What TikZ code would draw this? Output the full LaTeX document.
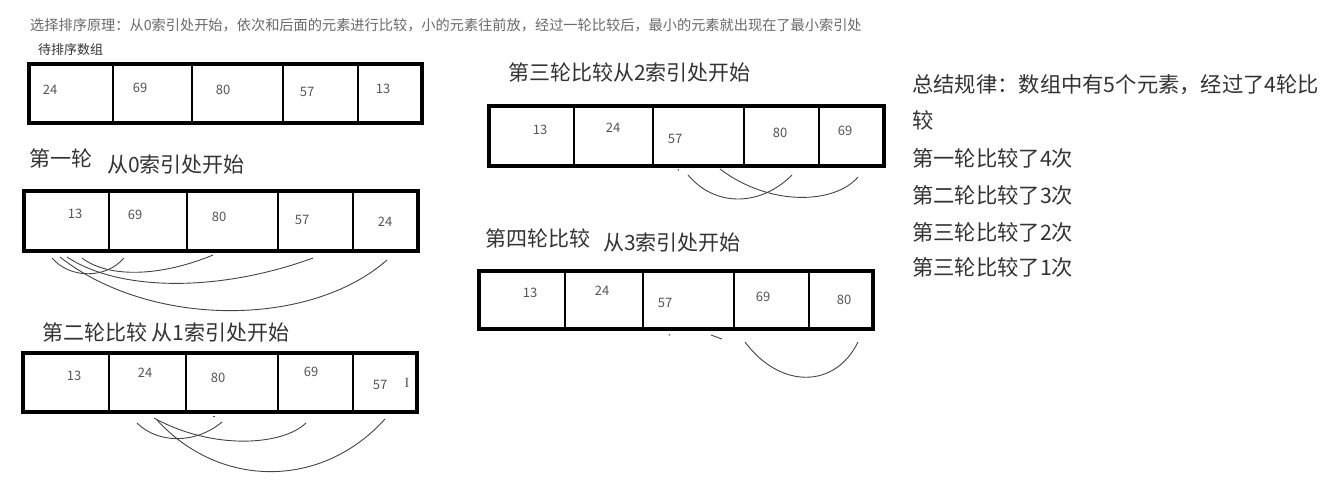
\documentclass[tikz,border=0pt]{standalone}
\usepackage{fontspec}
\setmainfont{Noto Sans CJK SC}
\newfontfamily\serifcursor{Liberation Serif}
\definecolor{capgray}{HTML}{6A6A6A}
\definecolor{labgray}{HTML}{333333}
\definecolor{numgray}{HTML}{555555}
\definecolor{curvegray}{HTML}{444444}
\tikzset{
  cellbox/.style={draw=black, line width=2.6pt, inner sep=0pt, outer sep=0pt},
  outerbox/.style={draw=black, line width=3.4pt},
  num/.style={text=numgray, font=\fontsize{13}{15}\selectfont, inner sep=0pt},
  lab/.style={text=labgray, font=\fontsize{21}{25}\selectfont, anchor=west, inner sep=0pt},
  sumtxt/.style={text=labgray, font=\fontsize{21.3}{25}\selectfont, anchor=west, inner sep=0pt},
  swapcurve/.style={draw=curvegray, line width=0.9pt},
}
\newcommand{\cellrowdraw}[4]{%
  \foreach \xl/\xr [count=\i] in {#4} {
    \node[cellbox, minimum width={\xr-\xl}, minimum height={#3-#2}, anchor=north west] (#1\i) at (\xl,-#2) {};
  }
  \draw[outerbox] (#11.north west) rectangle (#15.south east);
}
\begin{document}
\begin{tikzpicture}[x=1pt,y=1pt]
\useasboundingbox (0,0) rectangle (1335,-483);
\fill[white] (0,0) rectangle (1335,-483);

% caption
\node[anchor=west, inner sep=0pt, text=capgray, font=\fontsize{14.2}{17}\selectfont] (cap) at (30,-25) {选择排序原理：从0索引处开始，依次和后面的元素进行比较，小的元素往前放，经过一轮比较后，最小的元素就出现在了最小索引处};
\node[anchor=west, inner sep=0pt, text=labgray, font=\fontsize{13}{15}\selectfont] (orig) at (38,-50) {待排序数组};

% array 0 (original)
\cellrowdraw{a}{64}{123}{29/113, 113/192, 192/283, 283/358, 358/422}
\node[num] (an1) at (50,-90) {24};
\node[num] (an2) at (140,-88) {69};
\node[num] (an3) at (223,-90) {80};
\node[num] (an4) at (307,-92) {57};
\node[num] (an5) at (383,-89) {13};

% round 1
\node[lab] (l1a) at (29,-158) {第一轮};
\node[lab] (l1b) at (107,-165) {从0索引处开始};
\cellrowdraw{b}{191}{251}{24/109, 109/187, 187/278, 278/353, 353/418}
\node[num] (bn1) at (75,-214) {13};
\node[num] (bn2) at (135,-215) {69};
\node[num] (bn3) at (219,-217) {80};
\node[num] (bn4) at (302,-220) {57};
\node[num] (bn5) at (385,-222) {24};
\coordinate (b1s) at (52,-258); \coordinate (b1e) at (124,-258);
\coordinate (b2s) at (82,-258); \coordinate (b2e) at (213,-255);
\coordinate (b3s) at (67,-257); \coordinate (b3e) at (313,-258);
\coordinate (b4s) at (60,-257); \coordinate (b4e) at (387,-260);
\draw[swapcurve] (b1s) .. controls (70,-279) and (106,-279) .. (b1e);
\draw[swapcurve] (b2s) .. controls (108,-278) and (160,-277) .. (b2e);
\draw[swapcurve] (b3s) .. controls (120,-292) and (220,-292) .. (b3e);
\draw[swapcurve] (b4s) .. controls (150,-328) and (310,-328) .. (b4e);

% round 2
\node[lab] (l2) at (42,-333) {第二轮比较 从1索引处开始};
\cellrowdraw{c}{353}{412}{23/109, 109/186, 186/278, 278/353, 353/417}
\node[num] (cn1) at (74,-376) {13};
\node[num] (cn2) at (145,-373) {24};
\node[num] (cn3) at (218,-378) {80};
\node[num] (cn4) at (311,-372) {69};
\node[num] (cn5) at (380,-385) {57};
\node[text=numgray, font=\fontsize{14}{16}\serifcursor, inner sep=0pt] (cur) at (407,-383) {I};
\coordinate (c1s) at (137,-423); \coordinate (c1e) at (222,-422);
\coordinate (c2s) at (154,-418); \coordinate (c2e) at (306,-423);
\coordinate (c3s) at (157,-420); \coordinate (c3e) at (385,-419);
\draw[swapcurve] (c1s) .. controls (158,-444) and (196,-444) .. (c1e);
\draw[swapcurve] (c2s) .. controls (212,-450) and (282,-446) .. (c2e);
\draw[swapcurve] (c3s) .. controls (220,-489) and (322,-489) .. (c3e);
\coordinate (cdot) at (213,-416);
\draw[swapcurve] (cdot) -- ++(1.5,0);

% round 3
\node[lab] (l3) at (508,-73) {第三轮比较从2索引处开始};
\cellrowdraw{d}{106}{166}{489/574, 574/653, 653/744, 744/819, 819/884}
\node[num] (dn1) at (540,-130) {13};
\node[num] (dn2) at (613,-128) {24};
\node[num] (dn3) at (675,-139) {57};
\node[num] (dn4) at (780,-133) {80};
\node[num] (dn5) at (845,-131) {69};
\coordinate (d1s) at (688,-175); \coordinate (d1e) at (792,-175);
\coordinate (d2s) at (720,-169); \coordinate (d2e) at (858,-177);
\draw[swapcurve] (d1s) .. controls (715,-207) and (760,-207) .. (d1e);
\draw[swapcurve] (d2s) .. controls (770,-207) and (835,-204) .. (d2e);
\coordinate (ddot) at (678,-169);
\draw[swapcurve] (ddot) -- ++(0.5,-1.5);

% round 4
\node[lab] (l4a) at (485,-238) {第四轮比较};
\node[lab] (l4b) at (603,-243) {从3索引处开始};
\cellrowdraw{e}{271}{329}{479/565, 565/643, 643/734, 734/809, 809/873}
\node[num] (en1) at (530,-293) {13};
\node[num] (en2) at (602,-291) {24};
\node[num] (en3) at (665,-303) {57};
\node[num] (en4) at (763,-297) {69};
\node[num] (en5) at (844,-300) {80};
\coordinate (e1s) at (745,-342); \coordinate (e1e) at (858,-342);
\draw[swapcurve] (e1s) .. controls (780,-389) and (835,-389) .. (e1e);
\coordinate (edot) at (669,-334);
\draw[swapcurve] (edot) -- ++(0.5,-1.5);
\coordinate (em1) at (711,-335); \coordinate (em2) at (722,-339);
\draw[swapcurve] (em1) -- (em2);

% summary
\node[sumtxt] (s1) at (912,-85) {总结规律：数组中有5个元素，经过了4轮比};
\node[sumtxt] (s2) at (912,-120) {较};
\node[sumtxt] (s3) at (912,-158) {第一轮比较了4次};
\node[sumtxt] (s4) at (912,-195) {第二轮比较了3次};
\node[sumtxt] (s5) at (912,-232) {第三轮比较了2次};
\node[sumtxt] (s6) at (912,-267) {第三轮比较了1次};
\end{tikzpicture}
\end{document}
